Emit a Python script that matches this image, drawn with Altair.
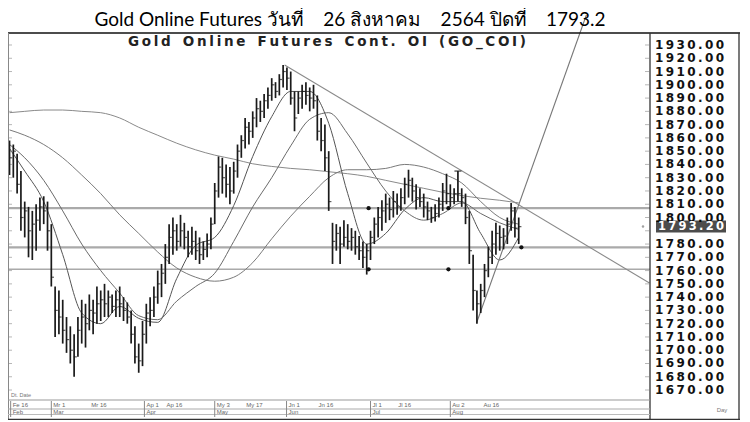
import altair as alt
import pandas as pd

# ---------------- data ----------------
highs = [1858, 1855, 1848, 1835, 1812, 1808, 1805, 1810, 1815, 1816,
         1812, 1795, 1748, 1745, 1738, 1725, 1718, 1712, 1725, 1738,
         1735, 1742, 1738, 1748, 1745, 1750, 1745, 1742, 1745, 1748,
         1740, 1736, 1730, 1718, 1705, 1722, 1735, 1740, 1748, 1760,
         1765, 1780, 1795, 1800, 1795, 1802, 1796, 1790, 1793, 1790,
         1785, 1782, 1788, 1800, 1826, 1846, 1845, 1840, 1838, 1842,
         1855, 1862, 1875, 1872, 1880, 1890, 1888, 1893, 1898, 1905,
         1902, 1908, 1915, 1913, 1910, 1895, 1895, 1900, 1902, 1898,
         1900, 1892, 1875, 1870, 1850, 1796, 1795, 1793, 1798, 1795,
         1792, 1790, 1786, 1782, 1780, 1790, 1800, 1808, 1813, 1818,
         1815, 1820, 1818, 1822, 1830, 1836, 1830, 1825, 1822, 1818,
         1812, 1808, 1810, 1815, 1826, 1833, 1825, 1822, 1835, 1822,
         1818, 1805, 1772, 1745, 1750, 1765, 1778, 1790, 1796, 1794,
         1792, 1800, 1811, 1808, 1800]
lows = [1832, 1830, 1818, 1790, 1785, 1770, 1768, 1775, 1790, 1795,
        1775, 1748, 1710, 1712, 1705, 1698, 1690, 1680, 1695, 1705,
        1702, 1715, 1712, 1720, 1722, 1725, 1725, 1728, 1725, 1725,
        1722, 1720, 1705, 1690, 1683, 1688, 1705, 1718, 1725, 1735,
        1740, 1750, 1765, 1772, 1775, 1778, 1776, 1770, 1772, 1768,
        1765, 1768, 1770, 1776, 1795, 1815, 1818, 1815, 1810, 1818,
        1830, 1845, 1852, 1855, 1860, 1868, 1872, 1875, 1882, 1888,
        1890, 1892, 1898, 1896, 1885, 1865, 1878, 1882, 1885, 1880,
        1882, 1858, 1850, 1835, 1805, 1765, 1775, 1765, 1778, 1776,
        1775, 1772, 1768, 1762, 1757, 1768, 1780, 1785, 1790, 1796,
        1798, 1800, 1802, 1805, 1810, 1815, 1812, 1806, 1808, 1800,
        1798, 1796, 1797, 1800, 1805, 1810, 1808, 1810, 1812, 1808,
        1795, 1765, 1730, 1720, 1728, 1740, 1755, 1765, 1772, 1775,
        1776, 1780, 1790, 1785, 1780]
closes = [1845, 1850, 1825, 1800, 1805, 1790, 1795, 1798, 1808, 1805,
          1790, 1755, 1730, 1725, 1715, 1708, 1700, 1695, 1715, 1725,
          1720, 1730, 1728, 1735, 1738, 1735, 1740, 1733, 1738, 1735,
          1730, 1725, 1712, 1695, 1692, 1712, 1728, 1730, 1740, 1750,
          1758, 1770, 1785, 1790, 1782, 1790, 1785, 1778, 1782, 1775,
          1772, 1776, 1780, 1795, 1820, 1838, 1830, 1825, 1820, 1835,
          1850, 1858, 1868, 1865, 1875, 1882, 1880, 1888, 1892, 1900,
          1895, 1904, 1910, 1905, 1890, 1875, 1890, 1895, 1892, 1890,
          1888, 1865, 1858, 1845, 1812, 1782, 1788, 1780, 1785, 1782,
          1785, 1778, 1775, 1770, 1775, 1785, 1795, 1800, 1805, 1810,
          1806, 1812, 1808, 1815, 1825, 1828, 1820, 1815, 1812, 1808,
          1805, 1800, 1803, 1810, 1820, 1818, 1815, 1818, 1818, 1815,
          1800, 1775, 1745, 1735, 1745, 1760, 1770, 1780, 1788, 1785,
          1786, 1795, 1805, 1792, 1793.2]

ma_idx = [0, 4, 9, 14, 19, 24, 29, 34, 39, 44, 49, 54, 59, 64, 69, 74, 79,
          84, 89, 94, 99, 104, 109, 114, 119, 124, 129, 134]
ma_fast = [1852, 1835, 1812, 1772, 1728, 1720, 1733, 1724, 1721, 1754, 1779,
           1785, 1809, 1846, 1876, 1895, 1895, 1871, 1818, 1780, 1788, 1806,
           1815, 1812, 1812, 1788, 1768, 1785]
ma_mid = [1855, 1845, 1828, 1805, 1780, 1760, 1743, 1726, 1723, 1737, 1748,
          1758, 1782, 1808, 1830, 1854, 1874, 1879, 1863, 1841, 1820, 1805,
          1798, 1803, 1811, 1803, 1796, 1791]
ma_slow = [1866, 1862, 1855, 1845, 1832, 1818, 1802, 1788, 1774, 1762, 1755,
           1752, 1755, 1766, 1784, 1801, 1816, 1830, 1836, 1836, 1837, 1840,
           1838, 1833, 1826, 1812, 1800, 1795]
ma_long = [1879, 1880, 1881, 1881, 1880, 1879, 1875, 1868, 1862, 1856, 1851,
           1847, 1844, 1840.5, 1838.5, 1837, 1836, 1834.5, 1833, 1831, 1828,
           1825, 1822, 1819, 1816.5, 1814.5, 1813, 1811]

level_values = [1807, 1777.5, 1761]
down_trend_i = [72.4, 168.4]
down_trend_v = [1915, 1750.6]
up_trend_i = [122.9, 151.8]
up_trend_v = [1720.5, 1952.6]
marker_i = [94.5, 115.5, 94.5, 115.5, 134.7]
marker_v = [1807, 1807, 1761, 1761, 1777.5]
spike_i = [118]
spike_v = [1835]

axis_values = [v for v in range(1930, 1660, -10) if v != 1790]  # 1790 hidden under the price box
last_price = 1793.20

date_labels = ["Fe 16", "Mr 1", "Mr 16", "Ap 1", "Ap 16", "My 3", "My 17",
               "Jn 1", "Jn 16", "Jl 1", "Jl 16", "Au 2", "Au 16"]
date_pos = [0.3, 11.0, 21.0, 35.5, 40.8, 54.0, 61.8, 72.9, 80.8, 95.0,
            101.8, 116.0, 124.2]
month_labels = ["Feb", "Mar", "Apr", "May", "Jun", "Jul", "Aug"]
month_pos = [0.3, 11.0, 35.5, 54.0, 72.9, 95.0, 116.0]

NB = "\u00a0"
THIN = "\u2009"
title_text = ("Gold Online Futures วันที่" + NB * 3 + " 26 สิงหาคม" + NB * 3 +
              " 2564 ปิดที่" + NB * 3 + " 1793.2")
subtitle_words = ["Gold", "Online", "Futures", "Cont.", "OI", "(GO_COI)"]
subtitle_text = (NB + NB + THIN).join(THIN.join(w) for w in subtitle_words)


def spaced(s):
    return THIN.join(s)


# ---------------- layout ----------------
W, H = 732, 412
PX = 3.8
xs = alt.Scale(domain=[-0.4, W / PX - 0.4], nice=False, zero=False)
ys = alt.Scale(domain=[1647.41, 1957.88], nice=False, zero=False)
X = lambda f: alt.X(f, type="quantitative", scale=xs, axis=None)
Y = lambda f: alt.Y(f, type="quantitative", scale=ys, axis=None)

bars = pd.DataFrame({"i": range(len(closes)), "h": highs, "l": lows, "c": closes})
one = pd.DataFrame({"k": [0]})


def hline(y, x1, x2, color="#000", w=1.0):
    return alt.Chart(one).mark_rule(color=color, strokeWidth=w).encode(
        x=alt.value(x1), x2=alt.value(x2), y=alt.value(y))


def vline(x, y1, y2, color="#000", w=1.0):
    return alt.Chart(one).mark_rule(color=color, strokeWidth=w).encode(
        x=alt.value(x), y=alt.value(y1), y2=alt.value(y2))


layers = []
# horizontal levels
lv = pd.DataFrame({"v": level_values, "w": ["a", "a", "b"]})
layers.append(alt.Chart(lv).mark_rule(color="#aaaaaa").encode(
    y=Y("v"), x=alt.value(0), x2=alt.value(642),
    strokeWidth=alt.StrokeWidth("w:N", scale=alt.Scale(domain=["a", "b"], range=[2.2, 1.3]), legend=None)))

# moving averages
ma = pd.DataFrame({"i": ma_idx, "f": ma_fast, "m": ma_mid, "s": ma_slow, "L": ma_long})
for col, colr, wd in [("L", "#8a8a8a", 1.0), ("s", "#7a7a7a", 1.0), ("m", "#6a6a6a", 1.0), ("f", "#555555", 1.0)]:
    layers.append(alt.Chart(ma).mark_line(color=colr, strokeWidth=wd, interpolate="monotone").encode(
        x=X("i"), y=Y(col)))

# trend lines
layers.append(alt.Chart(pd.DataFrame({"i": down_trend_i, "v": down_trend_v})).mark_line(
    color="#8a8a8a", strokeWidth=1.1).encode(x=X("i"), y=Y("v")))
layers.append(alt.Chart(pd.DataFrame({"i": up_trend_i, "v": up_trend_v})).mark_line(
    color="#777777", strokeWidth=1.1).encode(x=X("i"), y=Y("v")))

# left-edge tick marks
av_all = pd.DataFrame({"v": list(range(1930, 1660, -10))})
layers.append(alt.Chart(av_all).mark_tick(color="#999", orient="horizontal", size=4, thickness=1).encode(
    y=Y("v"), x=alt.value(2)))

# price bars
layers.append(alt.Chart(bars).mark_rule(color="#1a1a1a", strokeWidth=1.7).encode(
    x=X("i"), y=Y("l"), y2="h"))
layers.append(alt.Chart(bars).mark_tick(color="#1a1a1a", orient="horizontal", size=3, thickness=1.2,
                                        xOffset=1.2).encode(x=X("i"), y=Y("c")))
# spike cap
layers.append(alt.Chart(pd.DataFrame({"i": spike_i, "v": spike_v})).mark_tick(
    color="#222", orient="horizontal", size=7, thickness=1.5).encode(x=X("i"), y=Y("v")))
# markers on levels
layers.append(alt.Chart(pd.DataFrame({"i": marker_i, "v": marker_v})).mark_point(
    filled=True, color="#111", size=18, opacity=1).encode(x=X("i"), y=Y("v")))

# frame
layers += [
    hline(25, 0, 732, "#111", 1.5),
    vline(0.5, 25, 412, "#888", 1),
    vline(642, 25, 412, "#333", 1.3),
    vline(731, 25, 412, "#333", 1.3),
    hline(411.5, 0, 732, "#333", 1.3),
    hline(392, 0, 642, "#999", 1),
    hline(401, 0, 642, "#aaa", 1),
    hline(406.5, 0, 642, "#bbb", 1),
]

# right axis ticks and labels
av = pd.DataFrame({"v": axis_values, "t": [spaced(f"{v:.2f}") for v in axis_values]})
layers.append(alt.Chart(av_all).mark_tick(color="#999", orient="horizontal", size=4, thickness=1).encode(
    y=Y("v"), x=alt.value(639)))
layers.append(alt.Chart(av).mark_text(align="left", baseline="middle", font="DejaVu Sans",
                                      fontWeight="bold", fontSize=12, color="#111").encode(
    y=Y("v"), x=alt.value(647), text="t:N"))
lp = pd.DataFrame({"v": [last_price], "t": [spaced(f"{last_price:.2f}")]})
layers.append(alt.Chart(lp).mark_tick(color="#000", orient="horizontal", size=70, thickness=12).encode(
    y=Y("v"), x=alt.value(683)))
layers.append(alt.Chart(lp).mark_text(align="center", baseline="middle", font="DejaVu Sans",
                                      fontWeight="bold", fontSize=11.5, color="white").encode(
    y=Y("v"), x=alt.value(683), text="t:N"))
layers.append(alt.Chart(lp).mark_point(filled=True, color="#777", size=6).encode(
    y=Y("v"), x=alt.value(635)))

# date strip
dl = pd.DataFrame({"i": date_pos, "t": date_labels})
layers.append(alt.Chart(dl).mark_text(align="left", baseline="middle", fontSize=6, color="#666",
                                      font="Liberation Sans", dx=2).encode(
    x=X("i"), y=alt.value(397), text="t:N"))
ml = pd.DataFrame({"i": month_pos, "t": month_labels})
layers.append(alt.Chart(ml).mark_text(align="left", baseline="middle", fontSize=6, color="#666",
                                      font="Liberation Sans", dx=2).encode(
    x=X("i"), y=alt.value(404), text="t:N"))
layers.append(alt.Chart(ml).mark_rule(color="#888", strokeWidth=1).encode(
    x=X("i"), y=alt.value(393), y2=alt.value(409)))


# texts
def txt(s, x, y, size, weight="normal", font="Lato", color="#000", align="center"):
    return alt.Chart(one).mark_text(text=s, fontSize=size, fontWeight=weight, font=font, color=color,
                                    align=align, baseline="middle").encode(
        x=alt.value(x), y=alt.value(y))


layers += [
    txt(title_text, 342, 12, 19, font="Lato, Noto Sans, sans-serif"),
    txt(subtitle_text, 319, 34, 13.5, weight="bold", font="DejaVu Sans", color="#222"),
    txt("Dt. Date", 3, 387, 5.5, font="Liberation Sans", color="#777", align="left"),
    txt("Day", 714, 402, 6, font="Liberation Sans", color="#777"),
]

chart = alt.layer(*layers).properties(
    width=W, height=H, padding=0, autosize="none",
    background="white"
).configure_view(stroke=None)

chart.save("out.html", embed_options={"renderer": "svg", "actions": False})
